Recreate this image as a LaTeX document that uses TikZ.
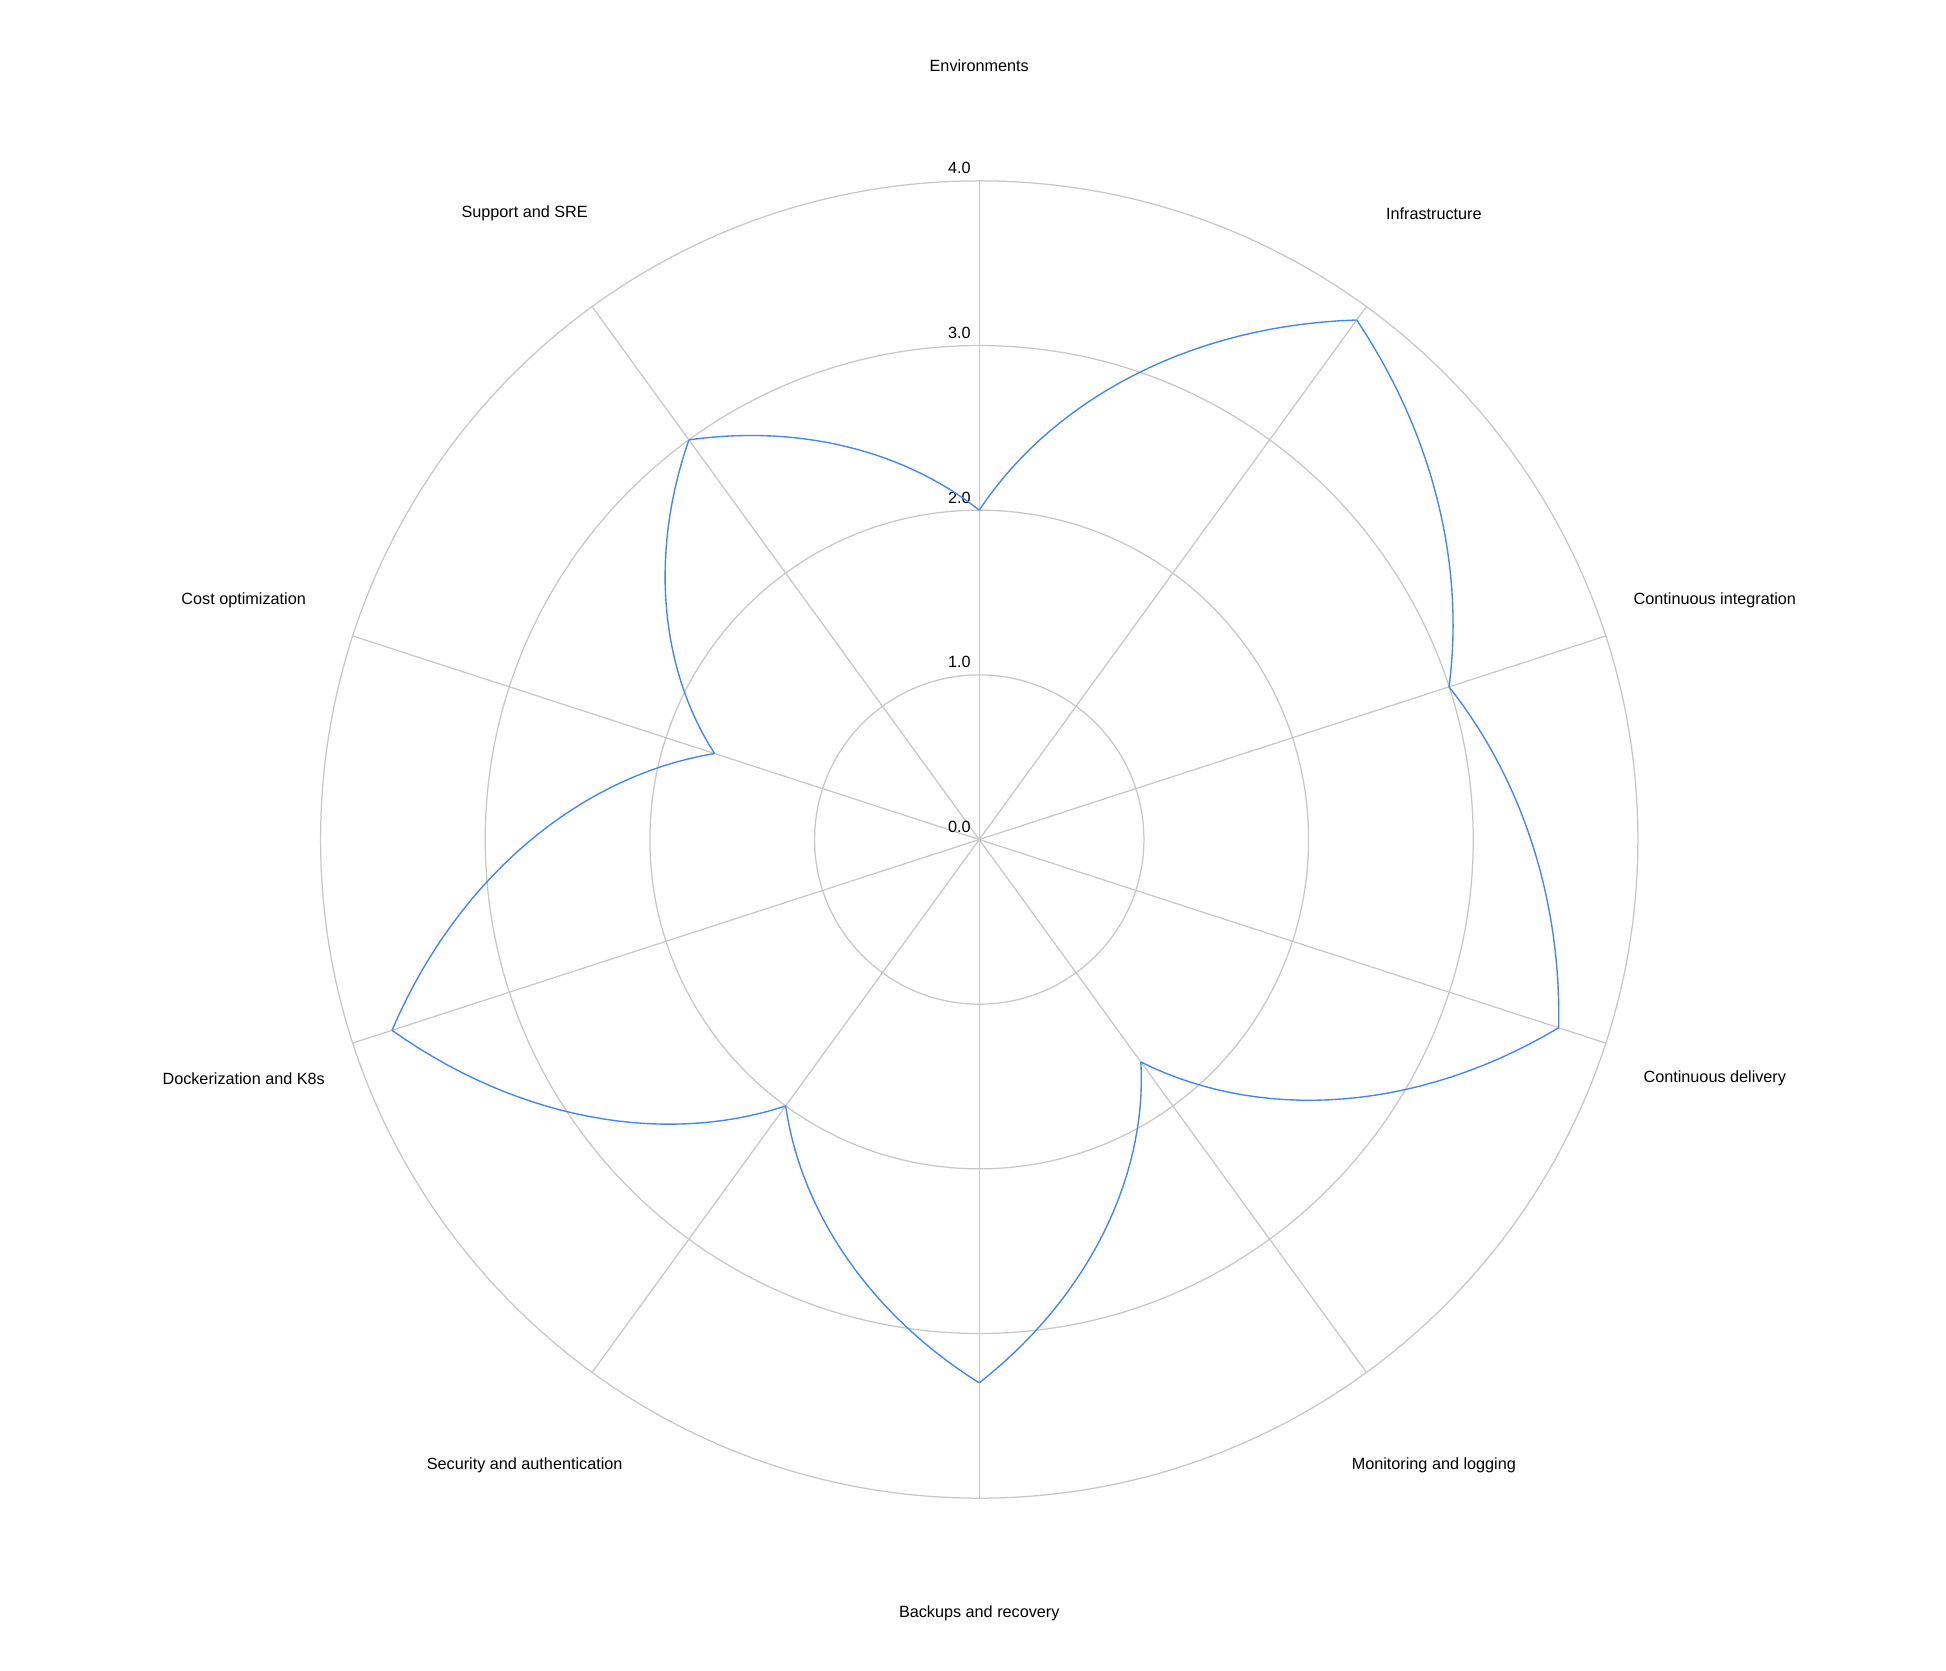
\documentclass[tikz,border=0pt]{standalone}
\usepackage{fontspec}
\setmainfont{Liberation Sans}
\usetikzlibrary{calc}
\definecolor{serblue}{RGB}{66,133,244}
\begin{document}
\begin{tikzpicture}[x=1pt,y=1pt,
  grid/.style={draw=black!22,line width=1pt},
  serie/.style={draw=serblue,line width=1.1pt,line join=round},
  lab/.style={font=\fontsize{13}{15}\selectfont}]
\useasboundingbox (0,0) rectangle (1560,1339);
\coordinate (c) at (785,666);
\foreach \k in {1,2,3,4} \draw[grid] (c) circle ({132*\k});
\foreach \i in {0,...,9} \draw[grid] (c) -- ++({90-36*\i}:528);
\foreach \k/\t in {0/0.0,1/1.0,2/2.0,3/3.0,4/4.0}
  \node[lab] (t\k) at ($(c)+(-16,{132*\k+10})$) {\t};
\def\vals{{2.0,3.9,3.0,3.7,1.67,3.3,2.0,3.75,1.69,3.0,2.0}}
\begin{scope}[shift={(785,666)}]
\foreach \i in {0,...,9}{
  \pgfmathsetmacro{\ra}{132*\vals[\i]}
  \pgfmathsetmacro{\rb}{132*\vals[\i+1]}
  \draw[serie]
    plot[domain=0:1,samples=30] ({90-36*(\i+\x)}:{\ra+(\rb-\ra)*\x});
}
\end{scope}
\foreach \i/\n in {0/Environments,1/Infrastructure,2/Continuous integration,3/Continuous delivery,4/Monitoring and logging,5/Backups and recovery,6/Security and authentication,7/Dockerization and K8s,8/Cost optimization,9/Support and SRE}
  \node[lab] (l\i) at ($(c)+({90-36*\i}:620)$) {\n};
\end{tikzpicture}
\end{document}
